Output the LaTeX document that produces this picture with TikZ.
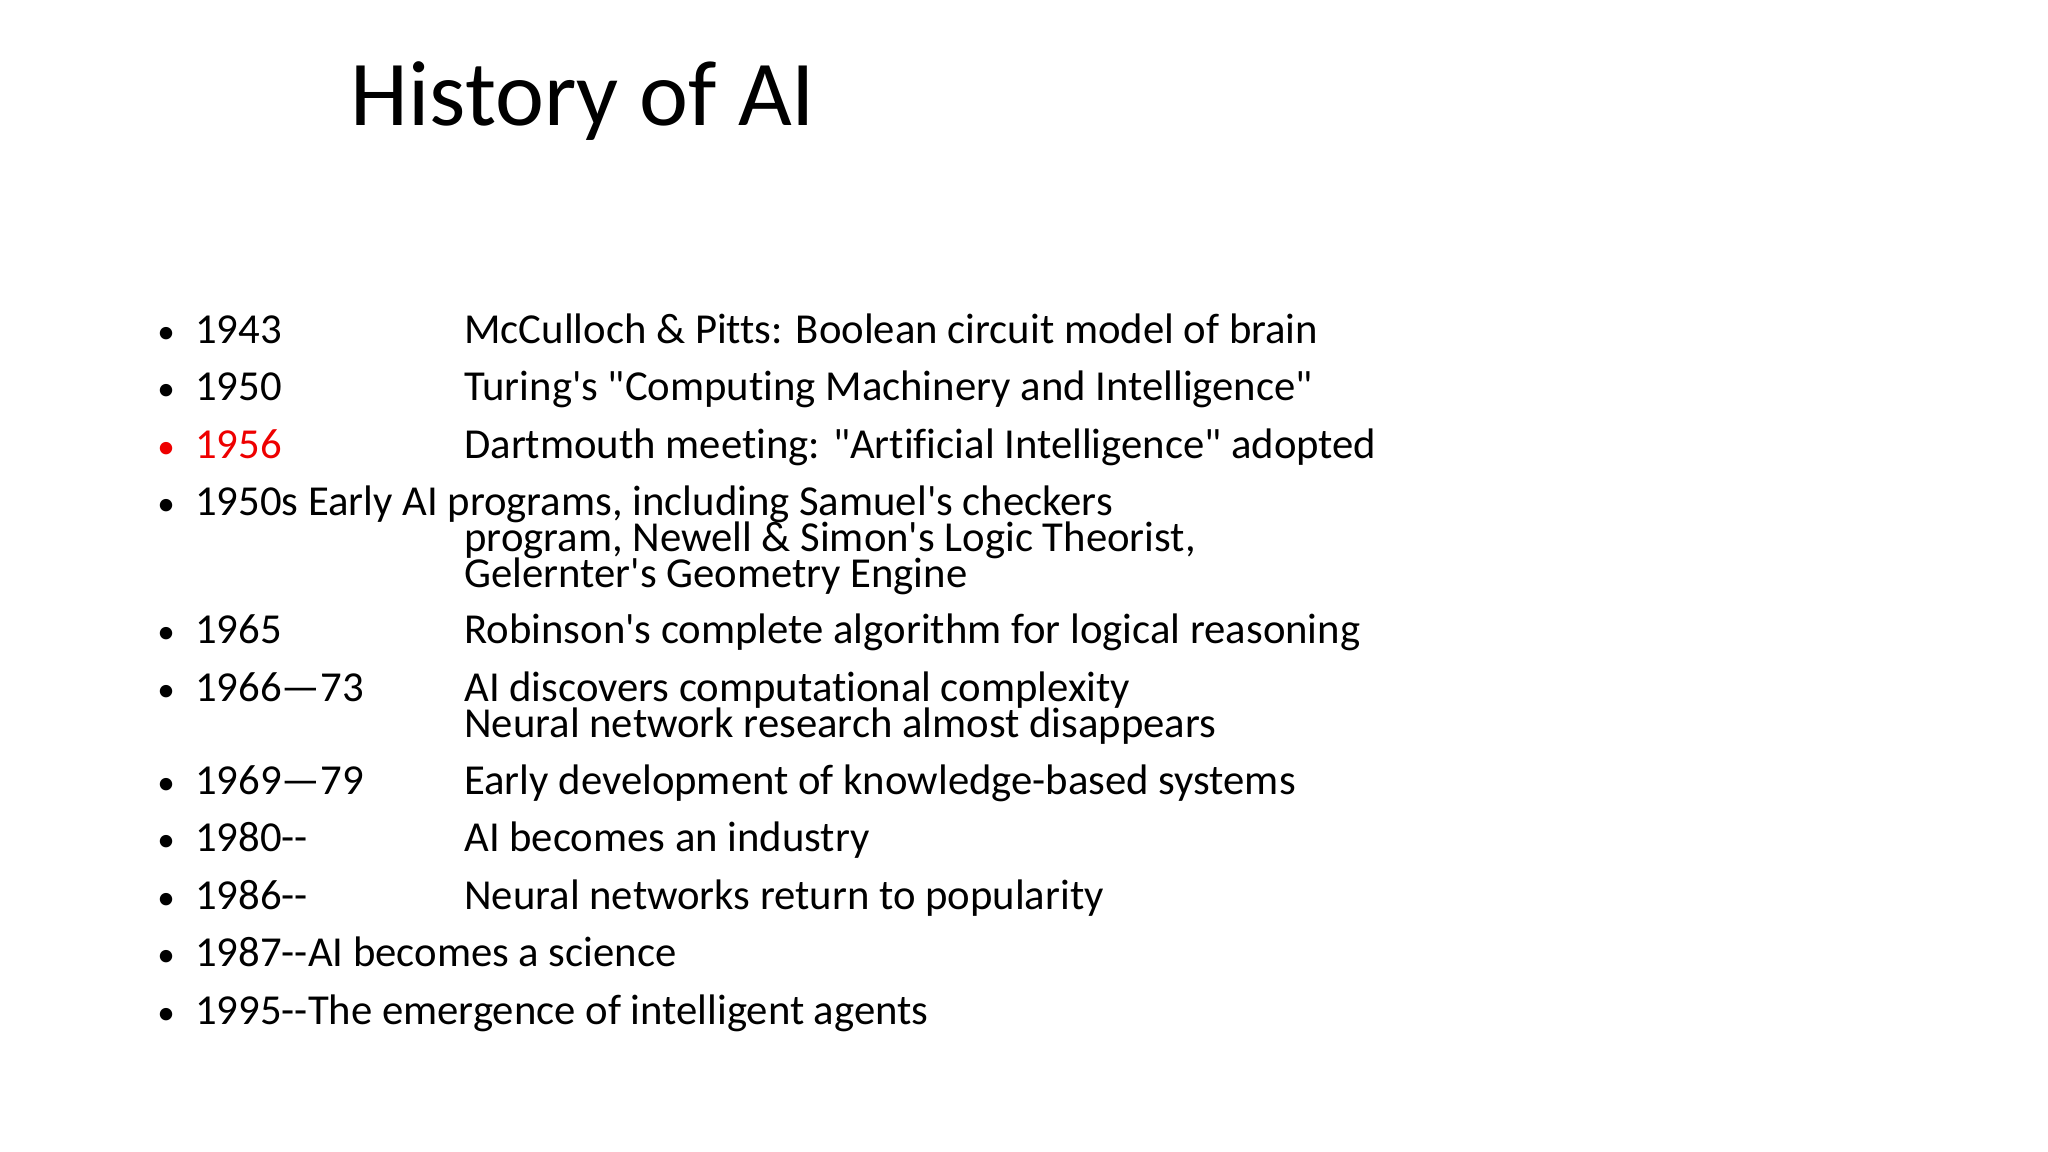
\documentclass[tikz,border=0pt]{standalone}
\usepackage{fontspec}
\setmainfont[Ligatures={TeXOff,CommonOff}]{Carlito}
\definecolor{hl}{RGB}{238,0,0}
\begin{document}
\begin{tikzpicture}[x=0.01306cm,y=-0.01306cm,
  txt/.style={anchor=base west,inner sep=0pt,font=\fontsize{12.15}{15}\selectfont},
  bul/.style={anchor=base west,inner sep=0pt,font=\fontsize{10}{12}\selectfont},
  ttl/.style={anchor=base west,inner sep=0pt,font=\fontsize{26.4}{32}\selectfont}]
\useasboundingbox (0,0) rectangle (1568,882);
\node[ttl] (title) at (268,96) {History of AI};
\foreach \n/\y/\yr/\d in {a/263/1943/{McCulloch \& Pitts: Boolean circuit model of brain},
  b/307/1950/{Turing's "Computing Machinery and Intelligence"},
  e/493/1965/{Robinson's complete algorithm for logical reasoning},
  f/537/1966—73/{AI discovers computational complexity},
  g/608/1969—79/{Early development of knowledge-based systems},
  h/652/1980--/{AI becomes an industry},
  i/696/1986--/{Neural networks return to popularity}}{
  \node[bul] (bul\n) at (120,\y) {•};
  \node[txt] (yr\n) at (149,\y) {\yr};
  \node[txt] (d\n) at (355,\y) {\d};
}
\node[bul,text=hl] (bulc) at (120,351) {•};
\node[txt,text=hl] (yrc) at (149,351) {1956};
\node[txt] (dc) at (355,351) {Dartmouth meeting: "Artificial Intelligence" adopted};
\node[bul] (buld) at (120,395) {•};
\node[txt] (yrd) at (149,395) {1950s Early AI programs, including Samuel's checkers};
\node[txt] (dd2) at (355,422) {program, Newell \& Simon's Logic Theorist,};
\node[txt] (dd3) at (355,450) {Gelernter's Geometry Engine};
\node[txt] (df2) at (355,565) {Neural network research almost disappears};
\node[bul] (bulj) at (120,740) {•};
\node[txt] (yrj) at (149,740) {1987--AI becomes a science};
\node[bul] (bulk) at (120,784) {•};
\node[txt] (yrk) at (149,784) {1995--The emergence of intelligent agents};
\end{tikzpicture}
\end{document}
